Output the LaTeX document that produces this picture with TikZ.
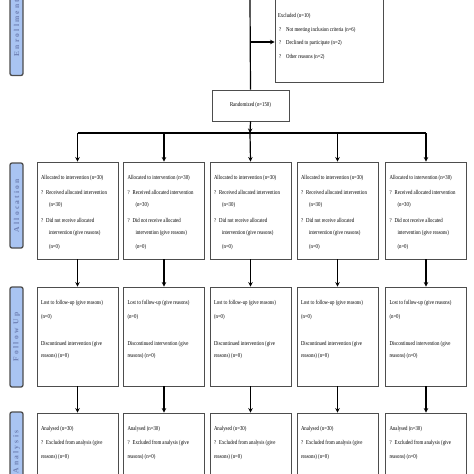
\documentclass[tikz,border=0pt]{standalone}
\usepackage{fontspec}
\usepackage{tikz}
\usetikzlibrary{arrows.meta,calc}
\setmainfont{Liberation Serif}
\newfontfamily\boxfont{Liberation Serif}[FakeStretch=0.8]
\newfontfamily\phasefont{Liberation Serif}[LetterSpace=30]
\definecolor{phasefill}{HTML}{A9C4F2}
\definecolor{phasetext}{HTML}{6E80B4}
\definecolor{boxline}{HTML}{4D4D4D}

\begin{document}
\begin{tikzpicture}[x=1pt, y=-1pt,
  phase/.style={draw=boxline, fill=phasefill, rounded corners=2pt, line width=1.3pt, rotate=90,
    minimum width=#1, minimum height=13pt, inner sep=0pt, text=phasetext, font=\phasefont\bfseries\fontsize{7.5}{8}\selectfont},
  box/.style={draw=boxline, line width=0.9pt, fill=white, inner xsep=4pt, inner ysep=0pt, font=\boxfont\fontsize{6}{12}\selectfont,
    execute at begin node={\begin{minipage}[c][#1][t]{73pt}\raggedright\vspace*{13pt}},
    execute at end node={\end{minipage}}},
  arr/.style={-{Stealth[length=4.5pt, width=4.5pt]}, line width=1.2pt}]
\clip (0,0) rectangle (474,474);
\useasboundingbox (0,0) rectangle (474,474);
% phase labels
\node[phase=95pt] (enrol) at (16.5,28) {Enrollment};
\node[phase=85pt] (alloc) at (16.5,205.5) {Allocation};
\node[phase=100pt] (follow) at (16.5,337) {Follow Up};
\node[phase=80pt] (analys) at (16.5,452) {Analysis};
% enrollment
\node[draw=boxline, line width=0.9pt, inner xsep=3pt, inner ysep=0pt, font=\boxfont\fontsize{6}{12}\selectfont,
  execute at begin node={\begin{minipage}[c][84pt][t]{102pt}\raggedright\vspace*{15pt}},
  execute at end node={\end{minipage}}] (excl) at (329,40.5)
  {Excluded (n=10)\\[2pt]
   \hspace*{1pt}?\hspace{5pt}Not meeting inclusion criteria (n=6)\\[1pt]
   \hspace*{1pt}?\hspace{5pt}Declined to participate (n=2)\\[2pt]
   \hspace*{1pt}?\hspace{5pt}Other reasons (n=2)};
\node[draw=boxline, line width=0.9pt, minimum width=77pt, minimum height=31pt, inner sep=0pt,
  font=\boxfont\fontsize{6}{12}\selectfont] (rand) at (250.5,105.5) {Randomized (n=150)};
\coordinate (top) at (250,0);
\coordinate (split) at (250,42);
\coordinate (bus) at (250,133);
% allocation
\node[box=97pt] (a1) at (77.5,210.5) {Allocated to intervention (n=30)\\[3pt]
  ?\hspace{3pt}Received allocated intervention\\ \hspace*{8pt}(n=30)\\[4pt]
  ?\hspace{3pt}Did not receive allocated\\ \hspace*{8pt}intervention (give reasons)\\[2pt] \hspace*{8pt}(n=0)};
\node[box=97pt] (a2) at (164,210.5) {Allocated to intervention (n=30)\\[3pt]
  ?\hspace{3pt}Received allocated intervention\\ \hspace*{8pt}(n=30)\\[4pt]
  ?\hspace{3pt}Did not receive allocated\\ \hspace*{8pt}intervention (give reasons)\\[2pt] \hspace*{8pt}(n=0)};
\node[box=97pt] (a3) at (250.5,210.5) {Allocated to intervention (n=30)\\[3pt]
  ?\hspace{3pt}Received allocated intervention\\ \hspace*{8pt}(n=30)\\[4pt]
  ?\hspace{3pt}Did not receive allocated\\ \hspace*{8pt}intervention (give reasons)\\[2pt] \hspace*{8pt}(n=0)};
\node[box=97pt] (a4) at (337.5,210.5) {Allocated to intervention (n=30)\\[3pt]
  ?\hspace{3pt}Received allocated intervention\\ \hspace*{8pt}(n=30)\\[4pt]
  ?\hspace{3pt}Did not receive allocated\\ \hspace*{8pt}intervention (give reasons)\\[2pt] \hspace*{8pt}(n=0)};
\node[box=97pt] (a5) at (426,210.5) {Allocated to intervention (n=30)\\[3pt]
  ?\hspace{3pt}Received allocated intervention\\ \hspace*{8pt}(n=30)\\[4pt]
  ?\hspace{3pt}Did not receive allocated\\ \hspace*{8pt}intervention (give reasons)\\[2pt] \hspace*{8pt}(n=0)};
% follow up
\node[box=99pt] (f1) at (77.5,336.5) {Lost to follow-up (give reasons)\\[2pt] (n=0)\\[15pt]
  Discontinued intervention (give\\ reasons) (n=0)};
\node[box=99pt] (f2) at (164,336.5) {Lost to follow-up (give reasons)\\[2pt] (n=0)\\[15pt]
  Discontinued intervention (give\\ reasons) (n=0)};
\node[box=99pt] (f3) at (250.5,336.5) {Lost to follow-up (give reasons)\\[2pt] (n=0)\\[15pt]
  Discontinued intervention (give\\ reasons) (n=0)};
\node[box=99pt] (f4) at (337.5,336.5) {Lost to follow-up (give reasons)\\[2pt] (n=0)\\[15pt]
  Discontinued intervention (give\\ reasons) (n=0)};
\node[box=99pt] (f5) at (426,336.5) {Lost to follow-up (give reasons)\\[2pt] (n=0)\\[15pt]
  Discontinued intervention (give\\ reasons) (n=0)};
% analysis
\node[box=80pt] (n1) at (77.5,453) {Analysed (n=30)\\[2pt]
  ?\hspace{3pt}Excluded from analysis (give\\[2pt] reasons) (n=0)};
\node[box=80pt] (n2) at (164,453) {Analysed (n=30)\\[2pt]
  ?\hspace{3pt}Excluded from analysis (give\\[2pt] reasons) (n=0)};
\node[box=80pt] (n3) at (250.5,453) {Analysed (n=30)\\[2pt]
  ?\hspace{3pt}Excluded from analysis (give\\[2pt] reasons) (n=0)};
\node[box=80pt] (n4) at (337.5,453) {Analysed (n=30)\\[2pt]
  ?\hspace{3pt}Excluded from analysis (give\\[2pt] reasons) (n=0)};
\node[box=80pt] (n5) at (426,453) {Analysed (n=30)\\[2pt]
  ?\hspace{3pt}Excluded from analysis (give\\[2pt] reasons) (n=0)};
% connectors
\draw[line width=1.2pt] (top) -- (rand.north);
\draw[arr] (split) -- (split -| excl.west);
\draw[arr] (rand.south) -- (bus);
\draw[line width=1.2pt] (a1.north |- bus) -- (a5.north |- bus);
\draw[arr] (a1.north |- bus) -- (a1.north);
\draw[arr] (a2.north |- bus) -- (a2.north);
\draw[arr] (bus) -- (a3.north);
\draw[arr] (a4.north |- bus) -- (a4.north);
\draw[arr] (a5.north |- bus) -- (a5.north);
\draw[arr] (a1) -- (f1);
\draw[arr] (a2) -- (f2);
\draw[arr] (a3) -- (f3);
\draw[arr] (a4) -- (f4);
\draw[arr] (a5) -- (f5);
\draw[arr] (f1) -- (n1);
\draw[arr] (f2) -- (n2);
\draw[arr] (f3) -- (n3);
\draw[arr] (f4) -- (n4);
\draw[arr] (f5) -- (n5);
\end{tikzpicture}
\end{document}
